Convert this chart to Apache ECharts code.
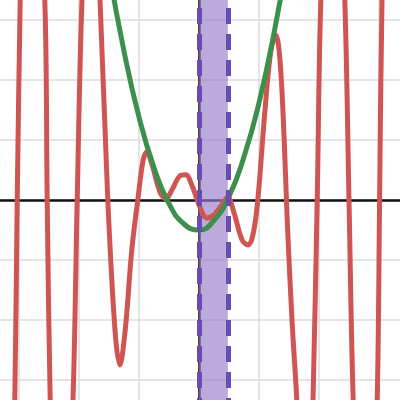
<!DOCTYPE html>
<html><head><meta charset="utf-8">
<script src="https://cdn.jsdelivr.net/npm/echarts@6/dist/echarts.min.js"></script>
<style>html,body{margin:0;padding:0;background:#fff;overflow:hidden;width:400px;height:400px}
#w{position:relative;width:400px;height:400px;overflow:hidden}
#c{position:absolute;left:-41px;top:-40px;width:480px;height:480px}</style>
</head><body><div id="w"><div id="c"></div></div>
<script>
var redX=[-3.12,-3.07,-3.03,-2.98,-2.93,-2.75,-2.57,-2.53,-2.48,-2.40,-2.25,-2.10,-2.03,-1.95,-1.85,-1.75,-1.65,-1.52,-1.40,-1.32,-1.23,-1.12,-1.02,-0.93,-0.87,-0.78,-0.65,-0.55,-0.45,-0.32,-0.22,-0.12,0.02,0.13,0.25,0.38,0.48,0.58,0.72,0.82,0.90,0.98,1.10,1.20,1.28,1.35,1.42,1.47,1.55,1.63,1.72,1.81,1.90,1.97,2.03,2.13,2.23,2.33,2.43,2.50,2.57,2.68,2.78,2.88,2.97,3.01,3.05,3.12];
var redY=[-5,-3.33,0,3.33,5.83,7,3.33,0,-3.33,-5.83,-7,-3.33,0,3.33,5,5,3.33,0,-2.17,-2.75,-2.17,-0.83,0,0.67,0.8,0.58,0.13,0.02,0.17,0.4,0.42,0.25,-0.13,-0.3,-0.25,-0.08,0.05,-0.2,-0.67,-0.75,-0.58,0,1.5,2.5,2.75,2.33,1,-0.33,-2,-3.33,-5.33,-6.5,-3.33,0,3.33,5.33,6,5.33,3.33,0,-3.33,-5.83,-6.5,-5.83,-3.33,0,3.33,5.83];
var greenX=[-1.5,-1.25,-1.0,-0.75,-0.5,-0.25,0,0.25,0.5,0.75,1.0,1.25,1.5];
var greenY=[3.82,2.48,1.38,0.54,-0.06,-0.40,-0.5,-0.34,0.06,0.72,1.62,2.78,4.18];
var band=[0,0.48];
function zip(a,b){return a.map(function(v,i){return [v,b[i]];});}
var ch=echarts.init(document.getElementById('c'));
var ax={min:-4,max:4,interval:1,axisLabel:{show:false},axisTick:{show:false},
  axisLine:{onZero:true,lineStyle:{color:'#111',width:2.5}},
  splitLine:{show:true,lineStyle:{color:'#dcdcdc',width:1.5}}};
ch.setOption({animation:false,
 grid:{left:0,top:0,right:0,bottom:0},
 xAxis:Object.assign({type:'value'},ax),
 yAxis:Object.assign({type:'value'},ax),
 series:[
  {type:'line',data:zip(redX,redY),smooth:0.35,symbol:'none',clip:true,z:3,lineStyle:{color:'#cf5553',width:5}},
  {type:'line',data:zip(greenX,greenY),smooth:true,symbol:'none',clip:true,z:4,lineStyle:{color:'#3d8f4c',width:5}},
  {type:'line',data:[],z:6,
   markArea:{silent:true,itemStyle:{color:'rgba(150,125,200,0.65)'},data:[[{xAxis:band[0]},{xAxis:band[1]}]]},
   markLine:{silent:true,symbol:'none',label:{show:false},lineStyle:{color:'#6a4bb2',width:5,type:[16,10]},
     data:[{xAxis:band[0]},{xAxis:band[1]}]}}
 ]});
</script></body></html>
